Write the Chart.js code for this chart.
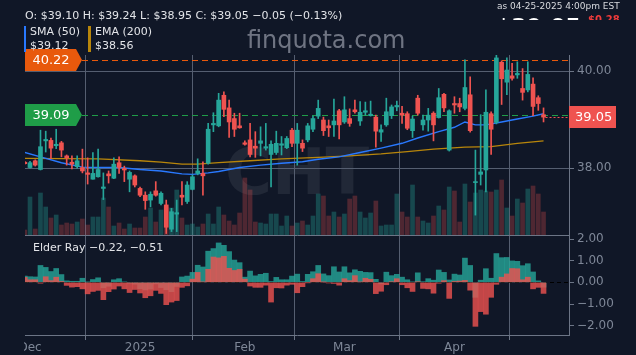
<!DOCTYPE html>
<html>
<head>
<meta charset="utf-8">
<script src="https://cdn.jsdelivr.net/npm/chart.js@4.4.1/dist/chart.umd.min.js"></script>
<style>
  html, body { margin: 0; padding: 0; background: #101727; }
  #wrap { position: relative; width: 636px; height: 355px; overflow: hidden; background: #101727; font-family: 'DejaVu Sans', sans-serif; }
  .t { position: absolute; white-space: nowrap; }
  canvas { position: absolute; }
</style>
</head>
<body>
<div id="wrap">
  <div class="t" style="left:225px;top:140px;font-size:64px;line-height:64px;font-weight:bold;color:rgba(255,255,255,0.075)">CHT</div>
  <canvas id="main" width="612" height="236" style="left:24px;top:0"></canvas>
  <canvas id="elder" width="612" height="129" style="left:24px;top:226px"></canvas>

  <div class="t" style="left:25px;top:9.7px;font-size:11px;line-height:11px;color:#e2e4e8">O: $39.10 H: $39.24 L: $38.95 C: $39.05 −0.05 (−0.13%)</div>
  <div style="position:absolute;left:24px;top:26px;width:2px;height:26px;background:#2979ff"></div>
  <div style="position:absolute;left:88px;top:26px;width:3px;height:26px;background:#b8860b"></div>
  <div class="t" style="left:30px;top:25.7px;font-size:11px;line-height:11px;color:#e2e4e8">SMA (50)</div>
  <div class="t" style="left:30px;top:40.2px;font-size:11px;line-height:11px;color:#e2e4e8">$39.12</div>
  <div class="t" style="left:95px;top:25.7px;font-size:11px;line-height:11px;color:#e2e4e8">EMA (200)</div>
  <div class="t" style="left:95px;top:40.2px;font-size:11px;line-height:11px;color:#e2e4e8">$38.56</div>
  <div class="t" style="left:247px;top:27.7px;font-size:24px;line-height:24px;color:rgba(170,175,188,0.62)">finquota.com</div>
  <div class="t" style="left:497px;top:2.4px;font-size:9px;line-height:9px;color:#d8dadf">as 04-25-2025 4:00pm EST</div>
  <div style="position:absolute;left:490px;top:0;width:146px;height:20px;overflow:hidden">
    <div class="t" style="left:6px;top:15.5px;font-size:22px;line-height:22px;font-weight:bold;color:#ffffff">$39.05</div>
    <div class="t" style="left:98px;top:15px;font-size:10px;line-height:10px;font-weight:bold;color:#ef3b3b">$0.28</div>
  </div>
  <div class="t" style="left:33px;top:242.2px;font-size:11px;line-height:11px;color:#e2e4e8">Elder Ray −0.22, −0.51</div>
</div>

<script>
// trading-day index: 0 = Dec 2 2024, -1 = Nov 29
const firstDay = -1;
const monthTicks = [0, 21, 41, 60, 81];
const monthLabels = ['Dec', '2025', 'Feb', 'Mar', 'Apr'];
const priceTicks = [38, 40];
const elderTicks = [-2, -1, 0, 1, 2];

const opens = [38.12, 38.01, 38.15, 37.97, 38.56, 38.57, 38.46, 38.52, 38.25, 38.12,
  38.03, 38.01, 37.90, 37.77, 37.82, 37.58, 37.88, 37.79, 38.11, 37.99,
  37.77, 37.84, 37.58, 37.44, 37.34, 37.53, 37.27, 37.24, 36.74, 37.05,
  37.44, 37.31, 37.56, 37.89, 37.89, 38.10, 38.89, 38.87, 39.50, 39.24,
  39.02, 38.87, 38.52, 38.58, 38.45, 38.51, 38.41, 38.28, 38.32, 38.47,
  38.42, 38.78, 38.51, 38.51, 38.58, 38.80, 39.07, 38.99, 38.87, 38.89,
  39.18, 38.95, 39.02, 39.20, 38.97, 39.15, 39.08, 39.05, 38.74, 38.89,
  39.08, 39.26, 39.13, 39.12, 38.77, 39.44, 38.89, 38.99, 39.13, 39.04,
  39.52, 38.37, 39.33, 39.33, 39.23, 39.51, 37.70, 37.87, 37.96, 39.12,
  38.94, 40.18, 39.77, 39.90, 39.92, 39.64, 39.61, 39.73, 39.45, 39.10];
const highs = [38.14, 38.14, 38.17, 38.78, 38.76, 38.62, 38.80, 38.55, 38.27, 38.25,
  38.25, 38.39, 38.21, 38.32, 38.39, 37.90, 37.94, 38.21, 38.23, 38.04,
  37.94, 37.86, 37.61, 37.51, 37.51, 37.72, 37.51, 37.34, 37.17, 37.34,
  37.72, 37.72, 37.86, 38.19, 38.13, 38.92, 39.14, 39.54, 39.57, 39.40,
  39.13, 39.13, 38.56, 38.92, 38.75, 38.85, 38.92, 38.56, 38.76, 38.65,
  38.65, 38.82, 38.92, 38.58, 38.92, 39.07, 39.40, 39.05, 38.99, 39.42,
  39.21, 39.47, 39.22, 39.40, 39.37, 39.36, 39.38, 39.09, 38.89, 39.44,
  39.30, 39.38, 39.27, 39.16, 39.07, 39.50, 39.09, 39.23, 39.16, 39.64,
  39.54, 39.20, 39.47, 39.44, 40.23, 39.88, 38.37, 39.10, 39.61, 39.16,
  40.33, 40.21, 40.27, 40.16, 40.19, 40.05, 40.19, 39.86, 39.49, 39.24];
const lows = [38.08, 38.00, 38.04, 37.96, 38.33, 38.20, 38.40, 38.23, 38.06, 37.98,
  38.00, 37.90, 37.67, 37.77, 37.81, 37.35, 37.69, 37.78, 37.89, 37.72,
  37.51, 37.61, 37.41, 37.15, 37.20, 37.42, 37.24, 36.65, 36.69, 36.69,
  37.24, 37.27, 37.55, 37.86, 37.44, 38.08, 38.75, 38.85, 39.06, 38.63,
  38.65, 38.82, 38.47, 38.23, 38.22, 38.25, 38.37, 37.61, 38.28, 38.27,
  38.40, 38.44, 38.06, 38.34, 38.54, 38.75, 39.02, 38.67, 38.65, 38.65,
  38.60, 38.92, 38.86, 39.13, 38.88, 39.09, 39.07, 38.43, 38.55, 38.86,
  39.02, 39.18, 38.92, 38.79, 38.63, 39.09, 38.78, 38.76, 38.56, 39.03,
  39.16, 38.35, 39.13, 39.16, 39.20, 38.74, 37.03, 37.65, 37.51, 38.28,
  38.91, 39.31, 39.51, 39.81, 39.85, 39.40, 39.57, 39.08, 39.19, 38.95];
const closes = [38.09, 38.11, 38.06, 38.44, 38.59, 38.41, 38.49, 38.37, 38.21, 38.08,
  38.15, 37.94, 37.87, 37.89, 37.97, 37.61, 37.84, 38.08, 38.01, 37.96,
  37.91, 37.65, 37.44, 37.33, 37.46, 37.44, 37.48, 36.78, 37.10, 37.08,
  37.40, 37.65, 37.82, 37.94, 37.84, 38.80, 38.92, 39.40, 39.21, 38.95,
  38.80, 38.83, 38.49, 38.28, 38.41, 38.56, 38.44, 38.49, 38.51, 38.50,
  38.61, 38.51, 38.78, 38.41, 38.87, 39.02, 39.23, 38.77, 38.83, 38.97,
  38.89, 39.20, 38.92, 39.16, 39.15, 39.18, 39.11, 38.76, 38.79, 39.16,
  39.26, 39.29, 39.09, 38.82, 39.01, 39.13, 38.99, 39.09, 38.89, 39.45,
  39.24, 39.18, 39.30, 39.26, 39.66, 38.77, 37.72, 37.92, 39.15, 38.80,
  40.27, 39.84, 40.02, 39.85, 39.95, 39.56, 39.93, 39.27, 39.33, 39.05];
// volume, thousands of shares
const volumes = [20, 152, 24, 168, 112, 68, 80, 40, 48, 44,
  52, 64, 40, 72, 72, 148, 112, 36, 48, 24,
  44, 28, 28, 72, 108, 52, 100, 112, 108, 180,
  68, 40, 44, 32, 44, 84, 44, 112, 80, 56,
  40, 88, 228, 180, 52, 48, 44, 84, 84, 36,
  76, 36, 48, 56, 40, 76, 164, 156, 76, 92,
  72, 84, 144, 156, 92, 68, 88, 136, 36, 40,
  40, 164, 92, 72, 200, 72, 56, 48, 76, 116,
  100, 192, 176, 52, 204, 132, 168, 180, 176, 172,
  180, 220, 108, 76, 144, 128, 184, 196, 164, 92];
const bullPower = [0.29, 0.26, 0.25, 0.78, 0.69, 0.50, 0.64, 0.36, 0.07, 0.05,
  0.05, 0.19, 0.01, 0.13, 0.21, -0.25, -0.18, 0.12, 0.17, 0.02,
  -0.04, -0.08, -0.29, -0.35, -0.31, -0.07, -0.24, -0.34, -0.43, -0.19,
  0.25, 0.29, 0.46, 0.79, 0.71, 1.44, 1.56, 1.82, 1.71, 1.42,
  1.03, 0.91, 0.24, 0.52, 0.30, 0.37, 0.42, 0.04, 0.23, 0.12,
  0.12, 0.29, 0.38, 0.04, 0.37, 0.49, 0.78, 0.39, 0.31, 0.72,
  0.48, 0.72, 0.44, 0.58, 0.51, 0.46, 0.45, 0.14, -0.07, 0.47,
  0.31, 0.37, 0.24, 0.12, 0.02, 0.44, 0.03, 0.17, 0.10, 0.57,
  0.46, 0.11, 0.38, 0.34, 1.12, 0.78, -0.69, 0.10, 0.63, 0.19,
  1.33, 1.14, 1.15, 0.99, 0.97, 0.77, 0.86, 0.48, 0.07, -0.22];
const bearPower = [0.23, 0.12, 0.12, -0.04, 0.26, 0.08, 0.24, 0.04, -0.14, -0.22,
  -0.20, -0.30, -0.53, -0.42, -0.37, -0.80, -0.43, -0.31, -0.17, -0.30,
  -0.47, -0.33, -0.49, -0.71, -0.62, -0.37, -0.51, -1.03, -0.91, -0.84,
  -0.23, -0.16, 0.15, 0.46, 0.02, 0.60, 1.17, 1.13, 1.20, 0.65,
  0.55, 0.60, 0.15, -0.17, -0.23, -0.23, -0.13, -0.91, -0.25, -0.26,
  -0.13, -0.09, -0.48, -0.20, -0.01, 0.17, 0.40, 0.01, -0.03, -0.05,
  -0.13, 0.17, 0.08, 0.31, 0.02, 0.19, 0.14, -0.52, -0.41, -0.11,
  0.03, 0.17, -0.11, -0.25, -0.42, 0.03, -0.28, -0.30, -0.50, -0.04,
  0.08, -0.74, 0.04, 0.06, 0.09, -0.36, -2.03, -1.35, -1.47, -0.69,
  -0.09, 0.24, 0.39, 0.64, 0.63, 0.12, 0.24, -0.30, -0.23, -0.51];

const smaDays = [-1, 2, 6, 10, 13, 17, 21, 25, 29, 31, 34, 36, 40, 44, 48, 52, 55, 59, 63, 67, 71, 74, 78, 81, 83, 85, 87, 90, 93, 96, 98];
const smaValues = [38.32, 38.23, 38.11, 38.02, 38.01, 38.01, 37.97, 37.94, 37.88, 37.87, 37.90, 37.93, 38.01, 38.06, 38.10, 38.13, 38.18, 38.23, 38.32, 38.41, 38.51, 38.62, 38.75, 38.84, 38.95, 38.89, 38.89, 38.95, 39.01, 39.07, 39.12];
const emaDays = [-1, 13, 21, 25, 29, 32, 36, 42, 48, 55, 61, 67, 72, 77, 83, 88, 93, 98];
const emaValues = [38.20, 38.19, 38.15, 38.12, 38.08, 38.08, 38.11, 38.15, 38.19, 38.22, 38.25, 38.29, 38.34, 38.39, 38.43, 38.44, 38.51, 38.56];

const levelValues = [40.22, 39.09];
const levelColors = ['#e8590c', '#1f9d48'];

const UP = '#26a69a', DOWN = '#ef5350';
const gridColor = '#555e70';
const axisColor = '#6c7586';
const labelColor = '#7e8797';
const xMin = -0.954, xMax = 102.86;

Chart.defaults.font.family = "'DejaVu Sans', sans-serif";

const days = opens.map((_, k) => firstDay + k);
const isUp = opens.map((o, k) => closes[k] >= o);
const candleColors = isUp.map(u => u ? UP : DOWN);
const volColors = isUp.map(u => u ? 'rgba(38,166,154,0.34)' : 'rgba(239,83,80,0.28)');

const priceLevels = {
    id: 'priceLevels',
    beforeDatasetsDraw(chart) {
        const { ctx, chartArea: a, scales: { y } } = chart;
        ctx.save();
        ctx.lineWidth = 1;
        ctx.setLineDash([6, 4]);
        levelValues.forEach((v, k) => {
            const py = Math.round(y.getPixelForValue(v)) + 0.5;
            ctx.strokeStyle = levelColors[k];
            ctx.beginPath();
            ctx.moveTo(a.left + 57, py);
            ctx.lineTo(a.right, py);
            ctx.stroke();
        });
        ctx.restore();
    },
    afterDatasetsDraw(chart) {
        const { ctx, chartArea: a, scales: { x, y } } = chart;
        ctx.save();
        ctx.font = "13px 'DejaVu Sans'";
        ctx.textBaseline = 'middle';
        levelValues.forEach((v, k) => {
            const py = Math.round(y.getPixelForValue(v));
            ctx.fillStyle = levelColors[k];
            ctx.beginPath();
            ctx.moveTo(a.left, py - 11);
            ctx.lineTo(a.left + 51, py - 11);
            ctx.lineTo(a.left + 57, py);
            ctx.lineTo(a.left + 51, py + 11);
            ctx.lineTo(a.left, py + 11);
            ctx.closePath();
            ctx.fill();
            ctx.fillStyle = '#ffffff';
            ctx.textAlign = 'center';
            ctx.fillText(v.toFixed(2), a.left + 26, py + 1);
        });
        const last = closes[closes.length - 1];
        const py = Math.round(y.getPixelForValue(last)) + 0.5;
        const lx = x.getPixelForValue(days[days.length - 1]) + 2;
        ctx.strokeStyle = DOWN;
        ctx.lineWidth = 1;
        ctx.setLineDash([2, 2]);
        ctx.beginPath();
        ctx.moveTo(lx, py);
        ctx.lineTo(a.right, py);
        ctx.stroke();
        ctx.setLineDash([]);
        ctx.fillStyle = DOWN;
        ctx.fillRect(a.right, py - 11.5, 47, 22);
        ctx.fillStyle = '#ffffff';
        ctx.textAlign = 'left';
        ctx.fillText(last.toFixed(2), a.right + 6, py + 0.5);
        ctx.restore();
    }
};

const zeroLine = {
    id: 'zeroLine',
    beforeDatasetsDraw(chart) {
        const { ctx, chartArea: a, scales: { y } } = chart;
        const py = Math.round(y.getPixelForValue(0)) + 0.5;
        ctx.save();
        ctx.strokeStyle = '#000000';
        ctx.lineWidth = 1;
        ctx.setLineDash([4, 3]);
        ctx.beginPath();
        ctx.moveTo(a.left, py);
        ctx.lineTo(a.right, py);
        ctx.stroke();
        ctx.restore();
    }
};

const fmt = v => (v < 0 ? '\u2212' + Math.abs(v).toFixed(2) : v.toFixed(2));
const fixWidth = s => { s.width = 67; s.paddingTop = 0; s.paddingBottom = 0; };

new Chart(document.getElementById('main'), {
    type: 'bar',
    data: {
        datasets: [{
            label: 'Volume',
            data: days.map((d, k) => ({ x: d, y: volumes[k] })),
            yAxisID: 'yVol',
            backgroundColor: volColors,
            barThickness: 4,
            grouped: false,
            order: 5
        }, {
            type: 'line',
            label: 'EMA (200)',
            data: emaDays.map((d, k) => ({ x: d, y: emaValues[k] })),
            yAxisID: 'y',
            borderColor: '#b8860b',
            borderWidth: 1.3,
            pointRadius: 0,
            tension: 0,
            order: 4
        }, {
            type: 'line',
            label: 'SMA (50)',
            data: smaDays.map((d, k) => ({ x: d, y: smaValues[k] })),
            yAxisID: 'y',
            borderColor: '#2979ff',
            borderWidth: 1.4,
            pointRadius: 0,
            tension: 0,
            order: 3
        }, {
            label: 'Wick',
            data: days.map((d, k) => ({ x: d, y: [lows[k], highs[k]] })),
            yAxisID: 'y',
            backgroundColor: candleColors,
            barThickness: 1,
            grouped: false,
            order: 2
        }, {
            label: 'Body',
            data: days.map((d, k) => ({ x: d, y: [opens[k], closes[k]] })),
            yAxisID: 'y',
            backgroundColor: candleColors,
            barThickness: 4,
            minBarLength: 1,
            grouped: false,
            order: 1
        }]
    },
    options: {
        responsive: false,
        animation: false,
        devicePixelRatio: 1,
        layout: { padding: { left: 1, top: 55, right: 0, bottom: 1 } },
        plugins: { legend: { display: false }, tooltip: { enabled: false } },
        scales: {
            x: {
                type: 'linear',
                min: xMin,
                max: xMax,
                offset: false,
                afterBuildTicks: s => { s.ticks = monthTicks.map(v => ({ value: v })); },
                afterFit: s => { s.height = 0; s.paddingLeft = 0; s.paddingRight = 0; },
                ticks: { display: false },
                grid: { color: gridColor, drawTicks: false },
                border: { display: true, color: axisColor }
            },
            y: {
                position: 'right',
                min: 36.62,
                max: 40.33,
                afterBuildTicks: s => { s.ticks = priceTicks.map(v => ({ value: v })); },
                afterFit: fixWidth,
                ticks: { color: labelColor, font: { size: 12 }, padding: 3, callback: v => v.toFixed(2) },
                grid: { color: gridColor, tickColor: axisColor, tickLength: 5 },
                border: { color: axisColor }
            },
            yVol: { display: false, min: 0, max: 720 }
        }
    },
    plugins: [priceLevels]
});

new Chart(document.getElementById('elder'), {
    type: 'bar',
    data: {
        datasets: [{
            label: 'Bull power',
            data: days.map((d, k) => ({ x: d, y: bullPower[k] })),
            backgroundColor: 'rgba(38,166,154,0.8)',
            barThickness: 5,
            grouped: false,
            order: 2
        }, {
            label: 'Bear power',
            data: days.map((d, k) => ({ x: d, y: bearPower[k] })),
            backgroundColor: 'rgba(239,83,80,0.8)',
            barThickness: 5,
            grouped: false,
            order: 1
        }]
    },
    options: {
        responsive: false,
        animation: false,
        devicePixelRatio: 1,
        layout: { padding: { left: 1, top: 10, right: 0, bottom: 0 } },
        plugins: { legend: { display: false }, tooltip: { enabled: false } },
        scales: {
            x: {
                type: 'linear',
                min: xMin,
                max: xMax,
                offset: false,
                afterBuildTicks: s => { s.ticks = monthTicks.map(v => ({ value: v })); },
                afterFit: s => { s.height = 20; s.paddingLeft = 0; s.paddingRight = 0; },
                ticks: {
                    color: labelColor, font: { size: 12 }, padding: 1, autoSkip: false, maxRotation: 0,
                    callback: v => monthLabels[monthTicks.indexOf(v)]
                },
                grid: { color: gridColor, tickColor: axisColor, tickLength: 5 },
                border: { display: true, color: axisColor }
            },
            y: {
                position: 'right',
                min: -2.43,
                max: 2.14,
                afterBuildTicks: s => { s.ticks = elderTicks.map(v => ({ value: v })); },
                afterFit: fixWidth,
                ticks: { color: labelColor, font: { size: 12 }, padding: 3, callback: fmt },
                grid: { drawOnChartArea: false, tickColor: axisColor, tickLength: 5 },
                border: { color: axisColor }
            }
        }
    },
    plugins: [zeroLine]
});
</script>
</body>
</html>
